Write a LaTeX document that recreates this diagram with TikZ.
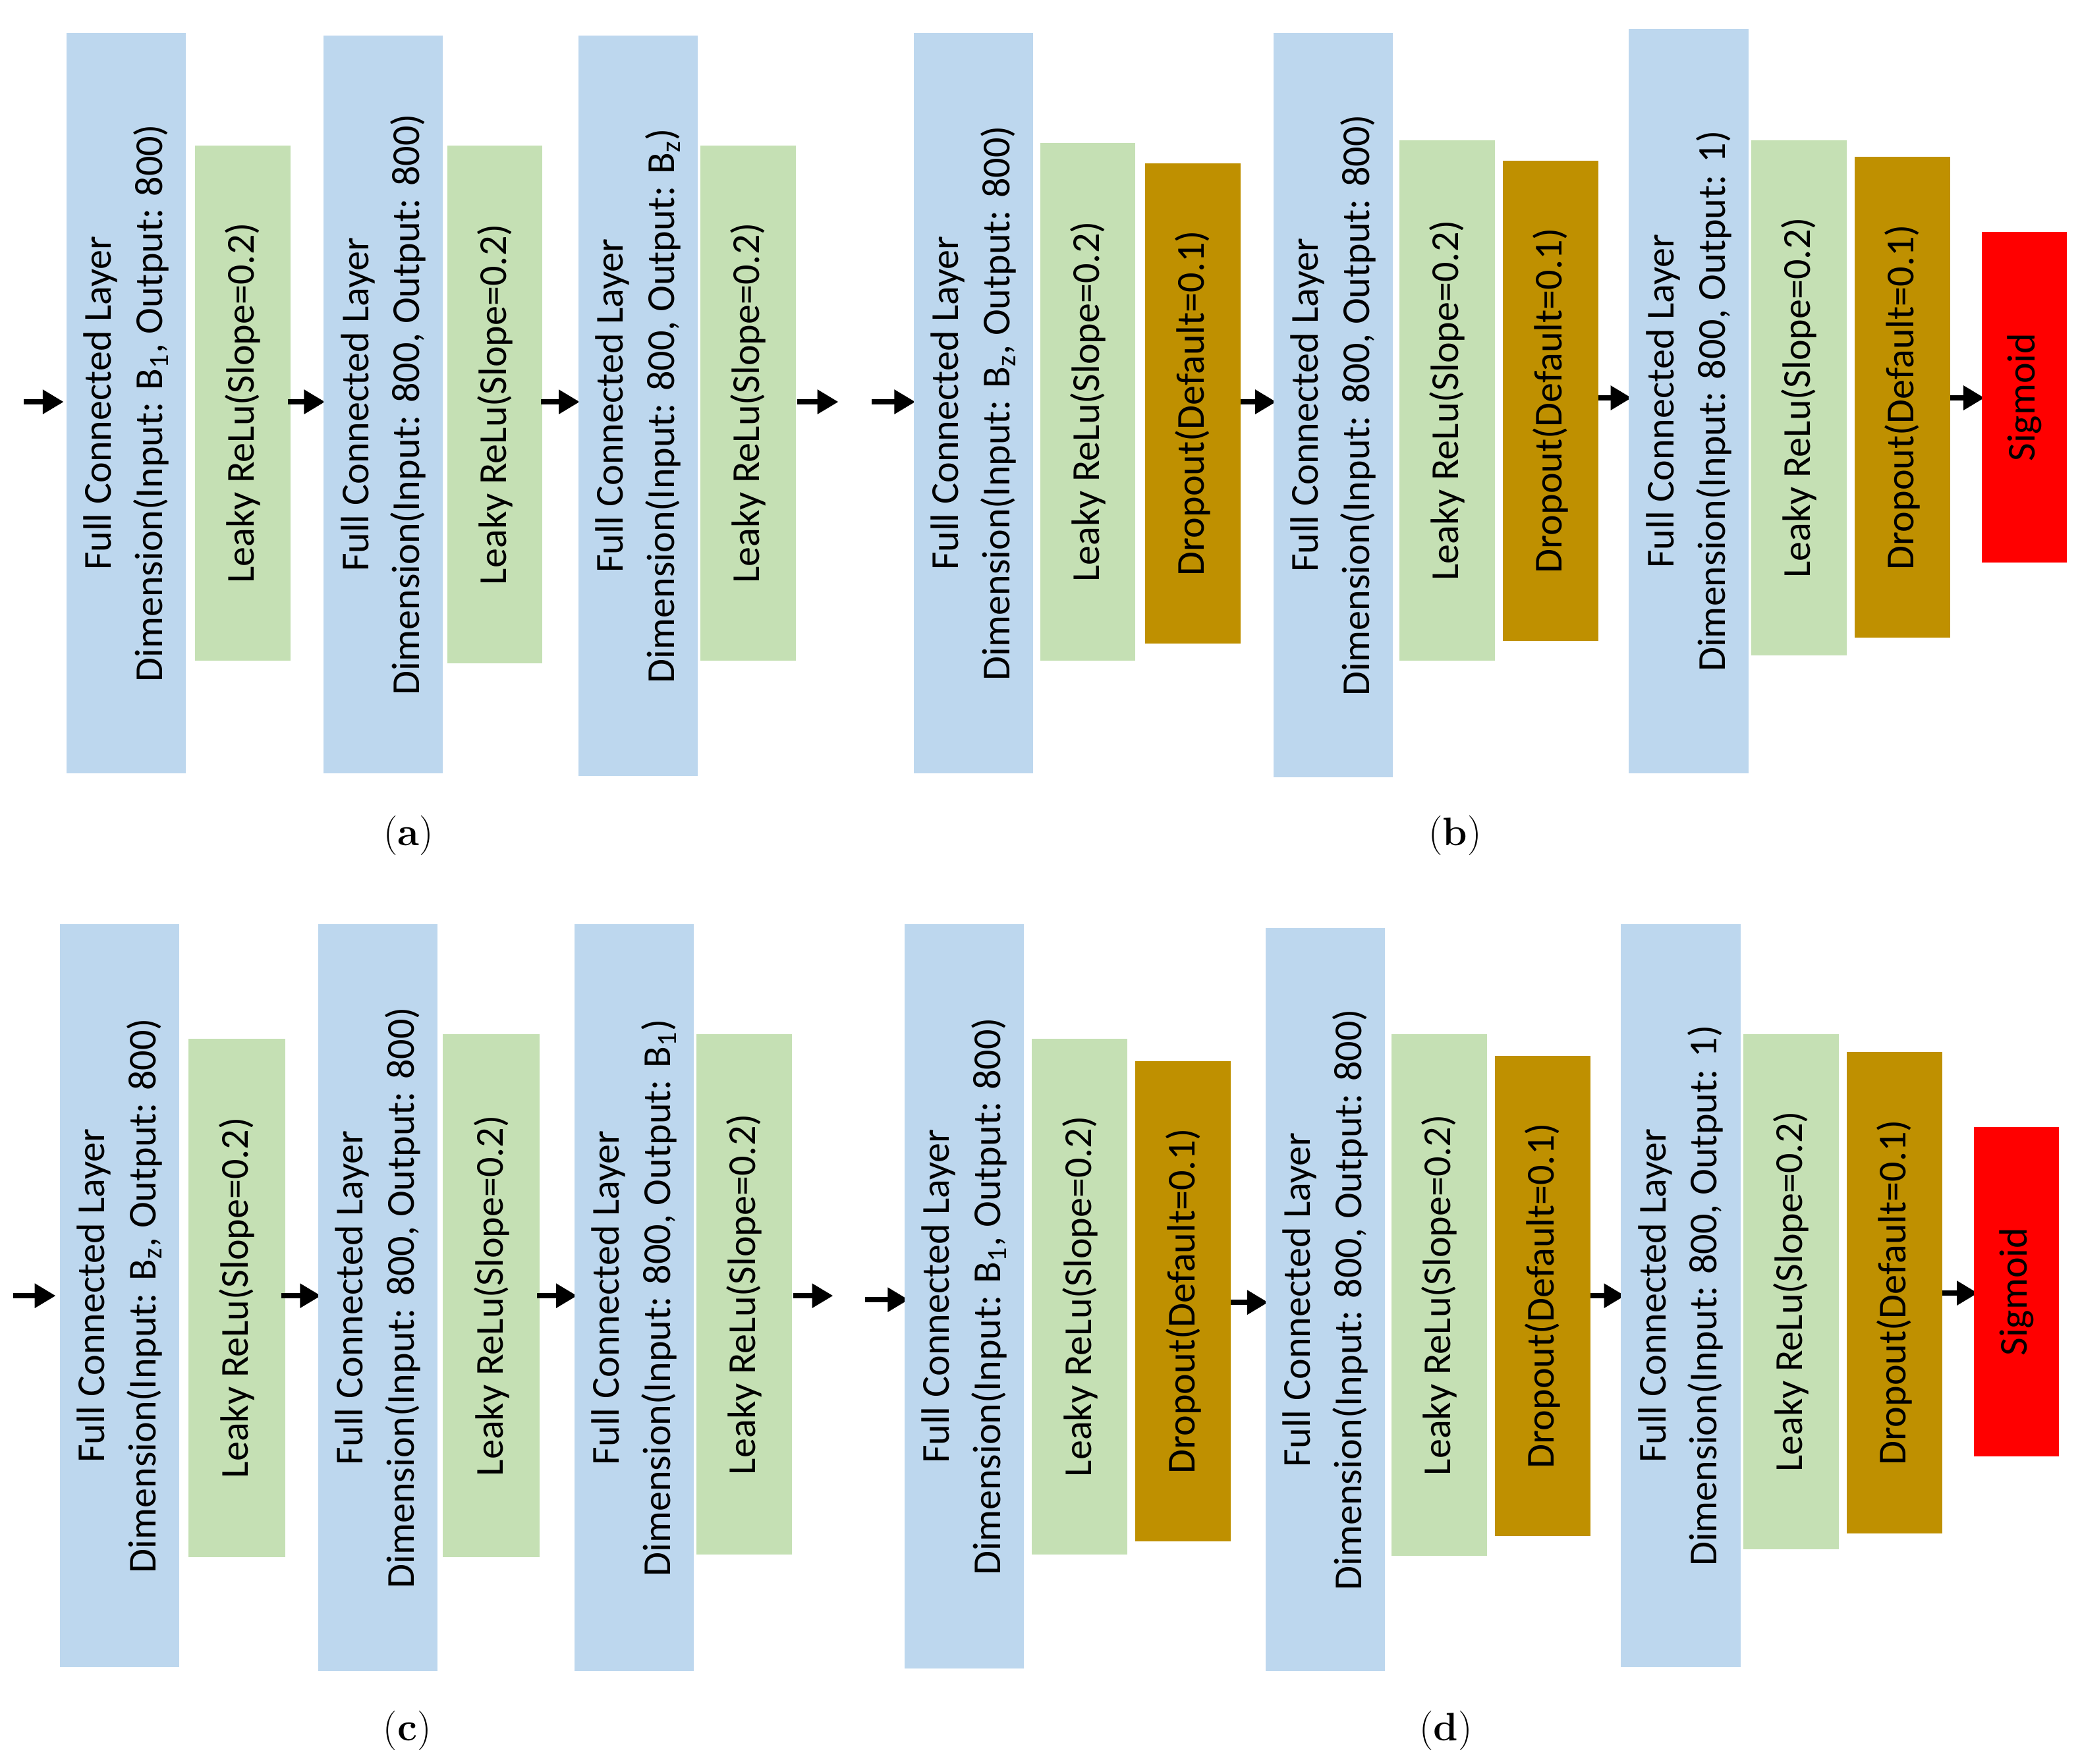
\documentclass[tikz,border=0pt]{standalone}
\usepackage{fontspec}
\setmainfont{Carlito}
\newfontfamily\serifb{Latin Modern Roman}
\usetikzlibrary{arrows.meta}
\definecolor{fcb}{RGB}{189,215,238}
\definecolor{lrg}{RGB}{197,224,180}
\definecolor{dog}{RGB}{191,144,0}
\tikzset{
 box/.style={rotate=90,inner sep=0pt,align=center,font=\fontsize{17}{22}\selectfont,text=black},
 fc/.style={box,fill=fcb}, lr/.style={box,fill=lrg}, dr/.style={box,fill=dog}, sg/.style={box,fill=red},
 arr/.style={-{Triangle[length=9pt,width=10pt]},line width=2.2pt},
 sublabel/.style={font=\serifb\fontsize{17}{20}\selectfont}
}
% \lay{name}{style}{x1}{y1}{x2}{y2}{text}
\newcommand{\lay}[7]{%
 \pgfmathsetmacro{\cx}{(#3+#5)/2}\pgfmathsetmacro{\cy}{(#4+#6)/2}%
 \pgfmathsetmacro{\ww}{(#6-#4)*0.02}\pgfmathsetmacro{\hh}{(#5-#3)*0.02}%
 \node[#2,minimum width=\ww cm,minimum height=\hh cm] (#1) at (\cx,\cy) {#7};}
\newcommand{\ar}[4]{\coordinate (#1s) at (#2,#4);\coordinate (#1e) at (#3,#4);\draw[arr] (#1s) -- (#1e);}
\def\FC#1#2{Full Connected Layer\\Dimension(Input: #1, Output: #2)}
\def\LR{Leaky ReLu(Slope=0.2)}
\def\DO{Dropout(Default=0.1)}
\begin{document}
\begin{tikzpicture}[x=0.02cm,y=-0.02cm]
\useasboundingbox (0,0) rectangle (1568,1330);
% (a)
\ar{a0}{18}{48}{303}
\lay{a1}{fc}{50}{25}{140}{583}{\FC{B\textsubscript{1}}{800}}
\lay{a2}{lr}{147}{110}{219}{498}{\LR}
\ar{a3}{217}{245}{303}
\lay{a4}{fc}{244}{27}{334}{583}{\FC{800}{800}}
\lay{a5}{lr}{337}{110}{409}{500}{\LR}
\ar{a6}{408}{437}{303}
\lay{a7}{fc}{436}{27}{526}{585}{\FC{800}{B\textsubscript{z}}}
\lay{a8}{lr}{528}{110}{600}{498}{\LR}
\ar{a9}{601}{632}{303}
\node[sublabel] (la) at (308,630) {(\textbf{a})};
% (b)
\ar{b0}{657}{690}{303}
\lay{b1}{fc}{689}{25}{779}{583}{\FC{B\textsubscript{z}}{800}}
\lay{b2}{lr}{784}{108}{856}{498}{\LR}
\lay{b3}{dr}{863}{123}{935}{485}{\DO}
\ar{b4}{935}{962}{303}
\lay{b5}{fc}{960}{25}{1050}{586}{\FC{800}{800}}
\lay{b6}{lr}{1055}{106}{1127}{498}{\LR}
\lay{b7}{dr}{1133}{121}{1205}{483}{\DO}
\ar{b8}{1205}{1230}{300}
\lay{b9}{fc}{1228}{22}{1318}{583}{\FC{800}{1}}
\lay{b10}{lr}{1320}{106}{1392}{494}{\LR}
\lay{b11}{dr}{1398}{118}{1470}{481}{\DO}
\ar{b12}{1470}{1496}{300}
\lay{b13}{sg}{1494}{175}{1558}{424}{Sigmoid}
\node[sublabel] (lb) at (1097,630) {(\textbf{b})};
% (c)
\ar{c0}{10}{42}{977}
\lay{c1}{fc}{45}{697}{135}{1257}{\FC{B\textsubscript{z}}{800}}
\lay{c2}{lr}{142}{783}{215}{1174}{\LR}
\ar{c3}{212}{242}{977}
\lay{c4}{fc}{240}{697}{330}{1260}{\FC{800}{800}}
\lay{c5}{lr}{334}{780}{407}{1174}{\LR}
\ar{c6}{405}{435}{977}
\lay{c7}{fc}{433}{697}{523}{1260}{\FC{800}{B\textsubscript{1}}}
\lay{c8}{lr}{525}{780}{597}{1172}{\LR}
\ar{c9}{598}{628}{977}
\node[sublabel] (lc) at (307,1305) {(\textbf{c})};
% (d)
\ar{d0}{652}{685}{980}
\lay{d1}{fc}{682}{697}{772}{1258}{\FC{B\textsubscript{1}}{800}}
\lay{d2}{lr}{778}{783}{850}{1172}{\LR}
\lay{d3}{dr}{856}{800}{928}{1162}{\DO}
\ar{d4}{928}{956}{982}
\lay{d5}{fc}{954}{700}{1044}{1260}{\FC{800}{800}}
\lay{d6}{lr}{1049}{780}{1121}{1173}{\LR}
\lay{d7}{dr}{1127}{796}{1199}{1158}{\DO}
\ar{d8}{1199}{1225}{977}
\lay{d9}{fc}{1222}{697}{1312}{1257}{\FC{800}{1}}
\lay{d10}{lr}{1314}{780}{1386}{1168}{\LR}
\lay{d11}{dr}{1392}{793}{1464}{1156}{\DO}
\ar{d12}{1464}{1491}{975}
\lay{d13}{sg}{1488}{850}{1552}{1098}{Sigmoid}
\node[sublabel] (ld) at (1090,1305) {(\textbf{d})};
\end{tikzpicture}
\end{document}
